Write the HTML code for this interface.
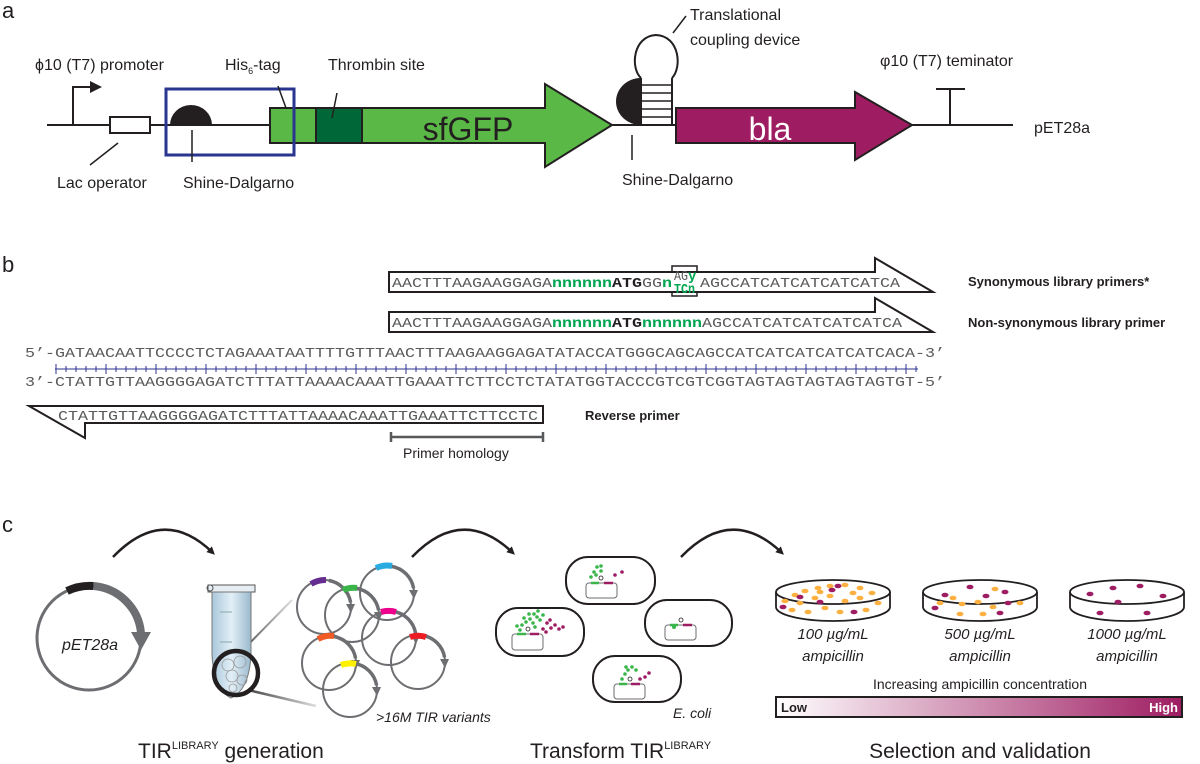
<!DOCTYPE html>
<html><head><meta charset="utf-8"><style>
html,body{margin:0;padding:0;background:#fff;}
svg{display:block;}
.s{font-family:"Liberation Sans",sans-serif;fill:#231f20;}
.m{font-family:"Liberation Mono",monospace;fill:#58595b;font-size:14px;}
</style></head><body>
<svg width="1200" height="764" viewBox="0 0 1200 764" xmlns="http://www.w3.org/2000/svg">
<defs>
<linearGradient id="bar" x1="0" x2="1" y1="0" y2="0"><stop offset="0" stop-color="#fff"/><stop offset="1" stop-color="#9e1d62"/></linearGradient>
<linearGradient id="tube" x1="0" x2="1"><stop offset="0" stop-color="#a9c7da"/><stop offset="0.5" stop-color="#e2eff7"/><stop offset="1" stop-color="#9ab9cd"/></linearGradient>
<linearGradient id="zl" x1="0" x2="1"><stop offset="0" stop-color="#444"/><stop offset="1" stop-color="#ddd"/></linearGradient>
<marker id="ah" markerWidth="8" markerHeight="8" refX="4" refY="4" orient="auto" markerUnits="userSpaceOnUse"><path d="M0,0 L8,4 L0,8 Z" fill="#231f20"/></marker>
<g id="pl">
<circle cx="0" cy="0" r="27" fill="none" stroke="#6d6e71" stroke-width="2"/>
<path d="M4.7,-26.6 A27,27 0 0,1 26.6,-4.7" fill="none" stroke="#6d6e71" stroke-width="3.5"/>
<path d="M22,-3 L31,-3 L27,6 Z" fill="#6d6e71"/>
</g>
</defs>

<!-- Panel a -->
<text class="s" x="2" y="18" font-size="22">a</text>
<line x1="47" y1="125" x2="270" y2="125" stroke="#231f20" stroke-width="2"/>
<path d="M73,125 V87 H92" fill="none" stroke="#231f20" stroke-width="2"/>
<path d="M90,81 L102,87 L90,93 Z" fill="#231f20"/>
<rect x="110" y="117" width="40" height="16" fill="#fff" stroke="#231f20" stroke-width="2"/>
<path d="M170,125 A21,20 0 0,1 212,125 Z" fill="#231f20"/>
<path d="M270,108 H545 V84 L612,125 L545,167 V143 H270 Z" fill="#5ab946" stroke="#231f20" stroke-width="2"/>
<rect x="316" y="108" width="46" height="35" fill="#006838" stroke="#231f20" stroke-width="2"/>
<text class="s" x="468" y="140" font-size="32" fill="#1c2a1c" text-anchor="middle">sfGFP</text>
<rect x="166" y="89" width="128" height="66" fill="none" stroke="#2a3590" stroke-width="3"/>
<line x1="278" y1="86" x2="286" y2="108" stroke="#231f20" stroke-width="1.5"/>
<line x1="337" y1="93" x2="332" y2="118" stroke="#231f20" stroke-width="1.5"/>
<line x1="118" y1="143" x2="90" y2="165" stroke="#231f20" stroke-width="1.5"/>
<line x1="192" y1="130" x2="192" y2="162" stroke="#231f20" stroke-width="1.5"/>
<text class="s" x="35" y="70" font-size="16">ϕ10 (T7) promoter</text>
<text class="s" x="225" y="70" font-size="16">His<tspan font-size="9" dy="4">6</tspan><tspan dy="-4">-tag</tspan></text>
<text class="s" x="328" y="70" font-size="16">Thrombin site</text>
<text class="s" x="57" y="188" font-size="16">Lac operator</text>
<text class="s" x="183" y="188" font-size="16">Shine-Dalgarno</text>

<line x1="612" y1="125" x2="676" y2="125" stroke="#231f20" stroke-width="2"/>
<path d="M641,78 A25,23.5 0 0,0 641,125 Z" fill="#231f20"/>
<line x1="641" y1="78" x2="641" y2="125" stroke="#231f20" stroke-width="2"/>
<line x1="672" y1="78" x2="672" y2="125" stroke="#231f20" stroke-width="2"/>
<g stroke="#231f20" stroke-width="1.5"><line x1="641" y1="85" x2="672" y2="85"/><line x1="641" y1="93" x2="672" y2="93"/><line x1="641" y1="101" x2="672" y2="101"/><line x1="641" y1="109" x2="672" y2="109"/><line x1="641" y1="117" x2="672" y2="117"/></g>
<path d="M641,78 C630,68 633,36 656,35 C680,36 682,68 672,78" fill="#fff" stroke="#231f20" stroke-width="2"/>
<line x1="686" y1="16" x2="673" y2="33" stroke="#231f20" stroke-width="1.5"/>
<text class="s" x="690" y="20" font-size="16">Translational</text>
<text class="s" x="690" y="45" font-size="16">coupling device</text>
<path d="M676,108 H855 V92 L912,125 L855,160 V143 H676 Z" fill="#9e1d62" stroke="#231f20" stroke-width="2"/>
<text class="s" x="770" y="140" font-size="32" fill="#fff" style="fill:#fff" text-anchor="middle">bla</text>
<line x1="912" y1="125" x2="1013" y2="125" stroke="#231f20" stroke-width="2"/>
<line x1="950" y1="89" x2="950" y2="125" stroke="#231f20" stroke-width="2"/>
<line x1="936" y1="89" x2="965" y2="89" stroke="#231f20" stroke-width="2"/>
<line x1="632" y1="135" x2="632" y2="160" stroke="#231f20" stroke-width="1.5"/>
<text class="s" x="622" y="185" font-size="16">Shine-Dalgarno</text>
<text class="s" x="880" y="66" font-size="16">φ10 (T7) teminator</text>
<text class="s" x="1034" y="133" font-size="16">pET28a</text>

<!-- Panel b -->
<text class="s" x="2" y="272" font-size="22">b</text>
<path d="M389,272 H875 V258 L933,292 H389 Z" fill="#fff" stroke="#231f20" stroke-width="2"/>
<path d="M389,312 H875 V298 L933,332 H389 Z" fill="#fff" stroke="#231f20" stroke-width="2"/>
<text class="m" x="392" y="287" textLength="160" lengthAdjust="spacingAndGlyphs">AACTTTAAGAAGGAGA</text>
<text class="m" x="552" y="287" textLength="60" lengthAdjust="spacingAndGlyphs" font-weight="bold" style="fill:#00a651">nnnnnn</text>
<text class="m" x="612" y="287" textLength="30" lengthAdjust="spacingAndGlyphs" font-weight="bold" style="fill:#231f20">ATG</text>
<text class="m" x="642" y="287" textLength="20" lengthAdjust="spacingAndGlyphs">GG</text>
<text class="m" x="662" y="287" textLength="10" lengthAdjust="spacingAndGlyphs" font-weight="bold" style="fill:#00a651">n</text>
<path d="M672,272 V266 H697 V272 M672,292 V296 H697 V292" fill="none" stroke="#231f20" stroke-width="1.5"/>
<text class="m" x="674" y="280" font-size="11" textLength="14" lengthAdjust="spacingAndGlyphs">AG</text>
<text class="m" x="688" y="280" font-size="12" font-weight="bold" style="fill:#00a651">y</text>
<text class="m" x="674" y="293" font-size="11" textLength="21" lengthAdjust="spacingAndGlyphs" font-weight="bold" style="fill:#00a651">TCn</text>
<text class="m" x="700" y="287" textLength="200" lengthAdjust="spacingAndGlyphs">AGCCATCATCATCATCATCA</text>

<text class="m" x="392" y="327" textLength="160" lengthAdjust="spacingAndGlyphs">AACTTTAAGAAGGAGA</text>
<text class="m" x="552" y="327" textLength="60" lengthAdjust="spacingAndGlyphs" font-weight="bold" style="fill:#00a651">nnnnnn</text>
<text class="m" x="612" y="327" textLength="30" lengthAdjust="spacingAndGlyphs" font-weight="bold" style="fill:#231f20">ATG</text>
<text class="m" x="642" y="327" textLength="60" lengthAdjust="spacingAndGlyphs" font-weight="bold" style="fill:#00a651">nnnnnn</text>
<text class="m" x="702" y="327" textLength="200" lengthAdjust="spacingAndGlyphs">AGCCATCATCATCATCATCA</text>
<text class="s" x="968" y="286" font-size="13" font-weight="bold">Synonymous library primers*</text>
<text class="s" x="968" y="327" font-size="13" font-weight="bold">Non-synonymous library primer</text>

<text class="m" x="25" y="357" textLength="920" lengthAdjust="spacingAndGlyphs">5’-GATAACAATTCCCCTCTAGAAATAATTTTGTTTAACTTTAAGAAGGAGATATACCATGGGCAGCAGCCATCATCATCATCATCACA-3’</text>
<text class="m" x="25" y="386" textLength="920" lengthAdjust="spacingAndGlyphs">3’-CTATTGTTAAGGGGAGATCTTTATTAAAACAAATTGAAATTCTTCCTCTATATGGTACCCGTCGTCGGTAGTAGTAGTAGTAGTGT-5’</text>
<g id="ticks" stroke="#2e3192" stroke-width="1">
<line x1="55" y1="369" x2="918" y2="369"/>
</g>
<path id="tk" d="" stroke="#2e3192" stroke-width="1" fill="none"/>
<script>
(function(){var d="";for(var i=0;i<87;i++){var x=56+i*10;var h=(i%5==0)?5:3;d+="M"+x+","+(369-h)+"V"+(369+h);}document.getElementById("tk").setAttribute("d",d);})();
</script>

<path d="M29,406 H543 V423 H85 V438 Z" fill="#fff" stroke="#231f20" stroke-width="2"/>
<text class="m" x="58" y="420" textLength="480" lengthAdjust="spacingAndGlyphs">CTATTGTTAAGGGGAGATCTTTATTAAAACAAATTGAAATTCTTCCTC</text>
<text class="s" x="585" y="420" font-size="13" font-weight="bold">Reverse primer</text>
<path d="M391,437 H543 M391,432 V442 M543,432 V442" stroke="#58595b" stroke-width="2.5" fill="none"/>
<text class="s" x="403" y="458" font-size="14">Primer homology</text>

<!-- Panel c -->
<text class="s" x="2" y="532" font-size="22">c</text>
<g fill="none" stroke="#231f20" stroke-width="2.5">
<path d="M113,557 Q163,505 212,552" marker-end="url(#ah)"/>
<path d="M412,557 Q462,505 512,552" marker-end="url(#ah)"/>
<path d="M681,557 Q731,505 781,552" marker-end="url(#ah)"/>
</g>
<!-- pET28a plasmid -->
<circle cx="89" cy="638" r="52" fill="none" stroke="#6d6e71" stroke-width="3"/>
<path d="M67,591 A52,52 0 0,1 93.5,586" fill="none" stroke="#231f20" stroke-width="8"/>
<path d="M93.5,586 A52,52 0 0,1 141,633" fill="none" stroke="#6d6e71" stroke-width="8"/>
<path d="M131,632 L151,632 L141,650 Z" fill="#6d6e71"/>
<text class="s" x="62" y="650" font-size="16" font-style="italic">pET28a</text>

<!-- tube -->
<path d="M238,655 L292,600" stroke="url(#zl)" stroke-width="2"/>
<path d="M248,690 L316,706" stroke="url(#zl)" stroke-width="2.5"/>
<rect x="208" y="585" width="47" height="7" fill="#e6eef3" stroke="#555" stroke-width="1"/>
<circle cx="210" cy="588" r="3" fill="none" stroke="#555"/>
<path d="M212,592 L251,592 L251,655 Q249,690 231,698 Q214,690 212,655 Z" fill="url(#tube)" stroke="#777" stroke-width="1"/>
<line x1="220" y1="612" x2="232" y2="612" stroke="#8aa" stroke-width="1"/>
<line x1="220" y1="642" x2="232" y2="642" stroke="#8aa" stroke-width="1"/>
<g fill="none" stroke="#999" stroke-width="0.8"><circle cx="228" cy="665" r="6"/><circle cx="240" cy="662" r="6"/><circle cx="232" cy="676" r="6"/><circle cx="242" cy="680" r="5"/><circle cx="233" cy="688" r="4"/></g>
<circle cx="236" cy="673" r="22" fill="none" stroke="#231f20" stroke-width="4.5"/>

<!-- cluster -->
<use href="#pl" x="324" y="607"/>
<use href="#pl" x="352" y="615"/>
<use href="#pl" x="387" y="593"/>
<use href="#pl" x="389" y="638"/>
<use href="#pl" x="329" y="663"/>
<use href="#pl" x="350" y="690"/>
<use href="#pl" x="418" y="662"/>
<g stroke-width="6" fill="none">
<path d="M311,584 A27,27 0 0,1 326,580" stroke="#662d91"/>
<path d="M343,590 A27,27 0 0,1 357,588" stroke="#39b54a"/>
<path d="M376,568 A27,27 0 0,1 392,566" stroke="#29abe2"/>
<path d="M381,612 A27,27 0 0,1 396,612" stroke="#ec008c"/>
<path d="M318,639 A27,27 0 0,1 334,636" stroke="#f15a24"/>
<path d="M341,665 A27,27 0 0,1 356,664" stroke="#fff200"/>
<path d="M410,637 A27,27 0 0,1 426,637" stroke="#ed1c24"/>
</g>
<text class="s" x="376" y="722" font-size="14" font-style="italic">&gt;16M TIR variants</text>
<text class="s" x="138" y="758" font-size="21">TIR<tspan font-size="11" dy="-9">LIBRARY</tspan><tspan dy="9"> generation</tspan></text>

<!-- cells -->
<g fill="#fff" stroke="#231f20" stroke-width="2">
<rect x="566" y="557" width="89" height="47" rx="22"/>
<rect x="496" y="608" width="88" height="48" rx="22"/>
<rect x="645" y="600" width="87" height="46" rx="22"/>
<rect x="593" y="656" width="88" height="46" rx="22"/>
</g>
<g fill="none" stroke="#6d6e71" stroke-width="1"><rect x="586" y="583" width="31" height="15" rx="3"/><rect x="512" y="634" width="31" height="16" rx="3"/><rect x="665" y="625" width="31" height="15" rx="3"/><rect x="614" y="684" width="31" height="15" rx="3"/></g>
<g stroke-width="2.5"><line x1="591" y1="583" x2="599" y2="583" stroke="#39b54a"/><line x1="604" y1="583" x2="613" y2="583" stroke="#9e1d62"/>
<line x1="517" y1="634" x2="526" y2="634" stroke="#39b54a"/><line x1="530" y1="634" x2="539" y2="634" stroke="#9e1d62"/>
<line x1="670" y1="625" x2="678" y2="625" stroke="#39b54a"/><line x1="683" y1="625" x2="692" y2="625" stroke="#9e1d62"/>
<line x1="619" y1="684" x2="627" y2="684" stroke="#39b54a"/><line x1="631" y1="684" x2="640" y2="684" stroke="#9e1d62"/></g>
<g fill="none" stroke="#231f20" stroke-width="0.8"><circle cx="601" cy="578" r="2"/><circle cx="528" cy="629" r="2"/><circle cx="681" cy="620" r="2"/><circle cx="630" cy="679" r="2"/></g>
<g fill="#39b54a"><circle cx="591" cy="577" r="1.8"/><circle cx="594" cy="572" r="1.8"/><circle cx="597" cy="567" r="1.8"/><circle cx="601" cy="566" r="1.8"/><circle cx="596" cy="575" r="1.8"/><circle cx="601" cy="571" r="1.8"/>
<circle cx="520" cy="630" r="1.8"/><circle cx="522" cy="625" r="1.8"/><circle cx="526" cy="622" r="1.8"/><circle cx="530" cy="619" r="1.8"/><circle cx="534" cy="614" r="1.8"/><circle cx="537" cy="617" r="1.8"/><circle cx="524" cy="618" r="1.8"/><circle cx="529" cy="614" r="1.8"/><circle cx="533" cy="623" r="1.8"/><circle cx="538" cy="611" r="1.8"/><circle cx="540" cy="620" r="1.8"/><circle cx="543" cy="615" r="1.8"/><circle cx="517" cy="626" r="1.8"/><circle cx="535" cy="627" r="1.8"/>
<circle cx="674" cy="627" r="2"/>
<circle cx="622" cy="679" r="1.8"/><circle cx="625" cy="674" r="1.8"/><circle cx="628" cy="670" r="1.8"/><circle cx="632" cy="667" r="1.8"/><circle cx="626" cy="667" r="1.8"/><circle cx="636" cy="670" r="1.8"/></g>
<g fill="#9e1d62"><circle cx="615" cy="575" r="1.8"/><circle cx="622" cy="572" r="1.8"/>
<circle cx="543" cy="629" r="1.8"/><circle cx="547" cy="623" r="1.8"/><circle cx="551" cy="628" r="1.8"/><circle cx="555" cy="625" r="1.8"/><circle cx="550" cy="620" r="1.8"/><circle cx="559" cy="629" r="1.8"/><circle cx="563" cy="627" r="1.8"/><circle cx="546" cy="632" r="1.8"/>
<circle cx="640" cy="679" r="1.8"/><circle cx="645" cy="677" r="1.8"/><circle cx="649" cy="673" r="1.8"/></g>
<text class="s" x="673" y="718" font-size="14" font-style="italic">E. coli</text>
<text class="s" x="530" y="758" font-size="21">Transform TIR<tspan font-size="11" dy="-9">LIBRARY</tspan></text>

<!-- plates -->
<g fill="none" stroke="#231f20" stroke-width="1.8">
<ellipse cx="833" cy="592" rx="57" ry="12"/><path d="M776,592 V607 A57,14 0 0,0 890,607 V592"/>
<ellipse cx="980" cy="592" rx="57" ry="12"/><path d="M923,592 V607 A57,14 0 0,0 1037,607 V592"/>
<ellipse cx="1127" cy="592" rx="57" ry="12"/><path d="M1070,592 V607 A57,14 0 0,0 1184,607 V592"/>
</g>
<g fill="#fbb040">
<ellipse cx="795" cy="595" rx="3.5" ry="2.3"/><ellipse cx="805" cy="591" rx="3.5" ry="2.3"/><ellipse cx="818" cy="588" rx="3.5" ry="2.3"/><ellipse cx="830" cy="586" rx="3.5" ry="2.3"/><ellipse cx="845" cy="585" rx="3.5" ry="2.3"/><ellipse cx="860" cy="588" rx="3.5" ry="2.3"/><ellipse cx="872" cy="593" rx="3.5" ry="2.3"/><ellipse cx="785" cy="601" rx="3.5" ry="2.3"/><ellipse cx="800" cy="603" rx="3.5" ry="2.3"/><ellipse cx="815" cy="598" rx="3.5" ry="2.3"/><ellipse cx="830" cy="596" rx="3.5" ry="2.3"/><ellipse cx="845" cy="601" rx="3.5" ry="2.3"/><ellipse cx="860" cy="598" rx="3.5" ry="2.3"/><ellipse cx="878" cy="603" rx="3.5" ry="2.3"/><ellipse cx="792" cy="610" rx="3.5" ry="2.3"/><ellipse cx="808" cy="612" rx="3.5" ry="2.3"/><ellipse cx="825" cy="608" rx="3.5" ry="2.3"/><ellipse cx="840" cy="612" rx="3.5" ry="2.3"/><ellipse cx="866" cy="610" rx="3.5" ry="2.3"/><ellipse cx="820" cy="592" rx="3.5" ry="2.3"/><ellipse cx="853" cy="593" rx="3.5" ry="2.3"/>
<ellipse cx="940" cy="603" rx="3.5" ry="2.3"/><ellipse cx="953" cy="598" rx="3.5" ry="2.3"/><ellipse cx="962" cy="604" rx="3.5" ry="2.3"/><ellipse cx="978" cy="602" rx="3.5" ry="2.3"/><ellipse cx="993" cy="607" rx="3.5" ry="2.3"/><ellipse cx="1020" cy="603" rx="3.5" ry="2.3"/><ellipse cx="995" cy="589" rx="3.5" ry="2.3"/><ellipse cx="960" cy="614" rx="3.5" ry="2.3"/><ellipse cx="983" cy="614" rx="3.5" ry="2.3"/>
</g>
<g fill="#9e1d62">
<ellipse cx="832" cy="590" rx="3.5" ry="2.3"/><ellipse cx="800" cy="597" rx="3.5" ry="2.3"/><ellipse cx="820" cy="602" rx="3.5" ry="2.3"/><ellipse cx="783" cy="607" rx="3.5" ry="2.3"/><ellipse cx="854" cy="612" rx="3.5" ry="2.3"/><ellipse cx="838" cy="586" rx="3.5" ry="2.3"/>
<ellipse cx="945" cy="595" rx="3.5" ry="2.3"/><ellipse cx="970" cy="587" rx="3.5" ry="2.3"/><ellipse cx="986" cy="596" rx="3.5" ry="2.3"/><ellipse cx="1005" cy="592" rx="3.5" ry="2.3"/><ellipse cx="1008" cy="603" rx="3.5" ry="2.3"/><ellipse cx="935" cy="608" rx="3.5" ry="2.3"/><ellipse cx="1000" cy="613" rx="3.5" ry="2.3"/>
<ellipse cx="1090" cy="594" rx="3.5" ry="2.3"/><ellipse cx="1113" cy="588" rx="3.5" ry="2.3"/><ellipse cx="1140" cy="586" rx="3.5" ry="2.3"/><ellipse cx="1163" cy="596" rx="3.5" ry="2.3"/><ellipse cx="1118" cy="602" rx="3.5" ry="2.3"/><ellipse cx="1100" cy="613" rx="3.5" ry="2.3"/><ellipse cx="1147" cy="613" rx="3.5" ry="2.3"/>
</g>
<g class="s" font-size="15" font-style="italic" text-anchor="middle">
<text x="833" y="639">100 µg/mL</text><text x="833" y="661">ampicillin</text>
<text x="980" y="639">500 µg/mL</text><text x="980" y="661">ampicillin</text>
<text x="1127" y="639">1000 µg/mL</text><text x="1127" y="661">ampicillin</text>
</g>
<text class="s" x="980" y="689" font-size="14" text-anchor="middle">Increasing ampicillin concentration</text>
<rect x="776" y="697" width="406" height="20" fill="url(#bar)" stroke="#231f20" stroke-width="2"/>
<text class="s" x="781" y="712" font-size="13" font-weight="bold">Low</text>
<text x="1178" y="712" font-size="13" font-weight="bold" text-anchor="end" fill="#fff" font-family="Liberation Sans, sans-serif">High</text>
<text class="s" x="980" y="758" font-size="21" text-anchor="middle">Selection and validation</text>
</svg>
</body></html>
